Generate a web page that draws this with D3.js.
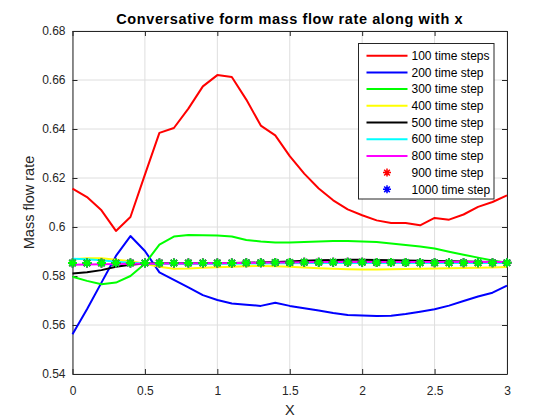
<!DOCTYPE html>
<html>
<head>
<meta charset="utf-8">
<script src="https://cdn.jsdelivr.net/npm/d3@7"></script>
<style>
  body { margin: 0; background: #fff; }
  text { font-family: "Liberation Sans", Arial, Helvetica, sans-serif; }
</style>
</head>
<body>
<div id="chart"></div>
<script>
var xValues = [0, 0.1, 0.2, 0.3, 0.4, 0.5, 0.6, 0.7, 0.8, 0.9, 1.0, 1.1, 1.2, 1.3, 1.4, 1.5,
    1.6, 1.7, 1.8, 1.9, 2.0, 2.1, 2.2, 2.3, 2.4, 2.5, 2.6, 2.7, 2.8, 2.9, 3.0];

var steps100 = [0.6157, 0.6122, 0.6068, 0.5984, 0.6041, 0.6214, 0.6384, 0.6404, 0.6483, 0.6574, 0.6620,
    0.6612, 0.6520, 0.6414, 0.6374, 0.6289, 0.6218, 0.6157, 0.6109, 0.6072, 0.6048,
    0.6027, 0.6016, 0.6016, 0.6007, 0.6037, 0.6030, 0.6051, 0.6082, 0.6102, 0.6129];
var steps200 = [0.5562, 0.5664, 0.5773, 0.5882, 0.5963, 0.5902, 0.5815, 0.5784, 0.5754, 0.5722, 0.5702,
    0.5688, 0.5683, 0.5678, 0.5691, 0.5678, 0.5668, 0.5659, 0.5649, 0.5641, 0.5639,
    0.5637, 0.5638, 0.5645, 0.5654, 0.5664, 0.5679, 0.5698, 0.5716, 0.5732, 0.5761];
var steps300 = [0.5797, 0.5780, 0.5766, 0.5773, 0.5800, 0.5850, 0.5928, 0.5961, 0.5967, 0.5966, 0.5965,
    0.5961, 0.5947, 0.5941, 0.5937, 0.5937, 0.5939, 0.5941, 0.5943, 0.5943, 0.5941,
    0.5939, 0.5933, 0.5927, 0.5920, 0.5912, 0.5899, 0.5887, 0.5875, 0.5863, 0.5854];
var steps400 = [0.5868, 0.5872, 0.5872, 0.5866, 0.5860, 0.5850, 0.5838, 0.5830, 0.5831, 0.5834, 0.5836,
    0.5838, 0.5840, 0.5841, 0.5840, 0.5838, 0.5835, 0.5832, 0.5830, 0.5828, 0.5827,
    0.5827, 0.5828, 0.5829, 0.5830, 0.5831, 0.5832, 0.5833, 0.5834, 0.5835, 0.5837];
var steps500 = [0.5810, 0.5815, 0.5824, 0.5838, 0.5846, 0.5851, 0.5852, 0.5852, 0.5852, 0.5852, 0.5852,
    0.5853, 0.5854, 0.5855, 0.5857, 0.5859, 0.5862, 0.5864, 0.5865, 0.5866, 0.5866,
    0.5865, 0.5864, 0.5863, 0.5862, 0.5861, 0.5860, 0.5859, 0.5858, 0.5857, 0.5856];
var steps600 = [0.5870, 0.5868, 0.5864, 0.5858, 0.5854, 0.5851, 0.5850, 0.5850, 0.5850, 0.5850, 0.5850,
    0.5850, 0.5851, 0.5851, 0.5852, 0.5852, 0.5853, 0.5853, 0.5853, 0.5853, 0.5853,
    0.5853, 0.5853, 0.5853, 0.5853, 0.5853, 0.5853, 0.5853, 0.5853, 0.5853, 0.5853];
var steps800 = [0.5846, 0.5847, 0.5848, 0.5849, 0.5850, 0.5850, 0.5851, 0.5851, 0.5851, 0.5852, 0.5852,
    0.5853, 0.5853, 0.5854, 0.5855, 0.5855, 0.5856, 0.5857, 0.5857, 0.5857, 0.5857,
    0.5857, 0.5857, 0.5857, 0.5857, 0.5857, 0.5857, 0.5857, 0.5857, 0.5857, 0.5857];
var steps900 = [0.5853, 0.5853, 0.5853, 0.5853, 0.5853, 0.5853, 0.5853, 0.5853, 0.5853, 0.5853, 0.5853,
    0.5853, 0.5854, 0.5854, 0.5855, 0.5855, 0.5856, 0.5856, 0.5856, 0.5856, 0.5856,
    0.5855, 0.5855, 0.5855, 0.5854, 0.5854, 0.5854, 0.5854, 0.5854, 0.5854, 0.5854];
var steps1000 = [0.5853, 0.5853, 0.5853, 0.5853, 0.5853, 0.5853, 0.5853, 0.5853, 0.5853, 0.5853, 0.5853,
    0.5853, 0.5854, 0.5854, 0.5855, 0.5855, 0.5856, 0.5856, 0.5856, 0.5856, 0.5856,
    0.5855, 0.5855, 0.5855, 0.5854, 0.5854, 0.5854, 0.5854, 0.5854, 0.5854, 0.5854];
// green stars drawn on top, not in the legend
var stepsLast = [0.5853, 0.5853, 0.5853, 0.5853, 0.5853, 0.5853, 0.5853, 0.5853, 0.5853, 0.5853, 0.5853,
    0.5853, 0.5854, 0.5854, 0.5855, 0.5855, 0.5856, 0.5856, 0.5856, 0.5856, 0.5856,
    0.5855, 0.5855, 0.5855, 0.5854, 0.5854, 0.5854, 0.5854, 0.5854, 0.5854, 0.5854];

var legendLabels = ["100 time steps", "200 time step", "300 time step", "400 time step",
    "500 time step", "600 time step", "800 time step", "900 time step", "1000 time step"];
var xTicks = [0, 0.5, 1, 1.5, 2, 2.5, 3];
var yTicks = [0.54, 0.56, 0.58, 0.6, 0.62, 0.64, 0.66, 0.68];

var svgWidth = 560;
var svgHeight = 420;
var margin = { top: 31, right: 53, bottom: 46, left: 72.5 };
var width = svgWidth - margin.left - margin.right;
var height = svgHeight - margin.top - margin.bottom;

var series = [
    { values: steps100, color: "#ff0000", type: "line" },
    { values: steps200, color: "#0000ff", type: "line" },
    { values: steps300, color: "#00ff00", type: "line" },
    { values: steps400, color: "#ffff00", type: "line" },
    { values: steps500, color: "#000000", type: "line" },
    { values: steps600, color: "#00ffff", type: "line" },
    { values: steps800, color: "#ff00ff", type: "line" },
    { values: steps900, color: "#ff0000", type: "star" },
    { values: steps1000, color: "#0000ff", type: "star" },
    { values: stepsLast, color: "#00ff00", type: "star" }
];

var svg = d3.select("#chart").append("svg")
    .attr("width", svgWidth)
    .attr("height", svgHeight);

var chartGroup = svg.append("g")
    .attr("transform", `translate(${margin.left}, ${margin.top})`);

var xLinearScale = d3.scaleLinear().domain([0, 3]).range([0, width]);
var yLinearScale = d3.scaleLinear().domain([0.54, 0.68]).range([height, 0]);

// grid
chartGroup.append("g")
    .selectAll("line.gx")
    .data(xTicks)
    .enter().append("line")
    .attr("x1", d => xLinearScale(d)).attr("x2", d => xLinearScale(d))
    .attr("y1", 0).attr("y2", height)
    .attr("stroke", "#dedede").attr("stroke-width", 1);

chartGroup.append("g")
    .selectAll("line.gy")
    .data(yTicks)
    .enter().append("line")
    .attr("y1", d => yLinearScale(d)).attr("y2", d => yLinearScale(d))
    .attr("x1", 0).attr("x2", width)
    .attr("stroke", "#dedede").attr("stroke-width", 1);

var fmt = d => String(+d.toFixed(2));

var bottomAxis = d3.axisBottom(xLinearScale).tickValues(xTicks).tickFormat(fmt).tickSizeInner(-5).tickSizeOuter(0).tickPadding(12);
var leftAxis = d3.axisLeft(yLinearScale).tickValues(yTicks).tickFormat(fmt).tickSizeInner(-5).tickSizeOuter(0).tickPadding(7);
var topAxis = d3.axisTop(xLinearScale).tickValues(xTicks).tickFormat("").tickSizeInner(-5).tickSizeOuter(0);
var rightAxis = d3.axisRight(yLinearScale).tickValues(yTicks).tickFormat("").tickSizeInner(-5).tickSizeOuter(0);

function styleAxis(g) {
    g.selectAll("path").attr("stroke", "#262626");
    g.selectAll("line").attr("stroke", "#262626");
    g.selectAll("text").attr("fill", "#262626").style("font-size", "12px")
        .style("font-family", "'Liberation Sans', Arial, sans-serif");
}

chartGroup.append("g").attr("transform", `translate(0, ${height})`).call(bottomAxis).call(styleAxis);
chartGroup.append("g").call(leftAxis).call(styleAxis);
chartGroup.append("g").call(topAxis).call(styleAxis);
chartGroup.append("g").attr("transform", `translate(${width}, 0)`).call(rightAxis).call(styleAxis);

var line = d3.line()
    .x((d, i) => xLinearScale(xValues[i]))
    .y(d => yLinearScale(d));

// MATLAB style asterisk: plus and cross together
function starPath(r) {
    var k = r * 0.7071;
    return `M${-r},0L${r},0M0,${-r}L0,${r}M${-k},${-k}L${k},${k}M${-k},${k}L${k},${-k}`;
}

var plotGroup = chartGroup.append("g");

series.forEach(function(s) {
    if (s.type === "line") {
        plotGroup.append("path")
            .datum(s.values)
            .attr("d", line)
            .attr("fill", "none")
            .attr("stroke", s.color)
            .attr("stroke-width", 2)
            .attr("stroke-linejoin", "round");
    } else {
        plotGroup.selectAll(null)
            .data(s.values)
            .enter()
            .append("path")
            .attr("transform", (d, i) => `translate(${xLinearScale(xValues[i])}, ${yLinearScale(d)})`)
            .attr("d", starPath(4.5))
            .attr("stroke", s.color)
            .attr("stroke-width", 1.8)
            .attr("fill", "none");
    }
});

// legend
var legend = svg.append("g").attr("transform", "translate(358.5, 43.5)");
legend.append("rect")
    .attr("width", 135.5).attr("height", 155.5)
    .attr("fill", "#fff").attr("stroke", "#262626").attr("stroke-width", 1);

legendLabels.forEach(function(label, i) {
    var s = series[i];
    var cy = 12.2 + i * 16.7;
    if (s.type === "line") {
        legend.append("line")
            .attr("x1", 8).attr("x2", 49)
            .attr("y1", cy).attr("y2", cy)
            .attr("stroke", s.color).attr("stroke-width", 2);
    } else {
        legend.append("path")
            .attr("transform", `translate(28.5, ${cy})`)
            .attr("d", starPath(4))
            .attr("stroke", s.color).attr("stroke-width", 1.5);
    }
    legend.append("text")
        .attr("x", 53).attr("y", cy)
        .attr("dy", "0.35em")
        .style("font-size", "12px")
        .attr("fill", "#000")
        .text(label);
});

// title and axis labels
svg.append("text")
    .attr("x", margin.left + width / 2)
    .attr("y", 24)
    .attr("text-anchor", "middle")
    .style("font-size", "14.5px")
    .style("font-weight", "bold")
    .style("letter-spacing", "0.6px")
    .attr("fill", "#000")
    .text("Conversative form mass flow rate along with x");

svg.append("text")
    .attr("x", margin.left + width / 2)
    .attr("y", 415)
    .attr("text-anchor", "middle")
    .style("font-size", "14.5px")
    .attr("fill", "#262626")
    .text("X");

svg.append("text")
    .attr("transform", "rotate(-90)")
    .attr("x", -(margin.top + height / 2))
    .attr("y", 34)
    .attr("text-anchor", "middle")
    .style("font-size", "14.5px")
    .attr("fill", "#262626")
    .text("Mass flow rate");
</script>
</body>
</html>
